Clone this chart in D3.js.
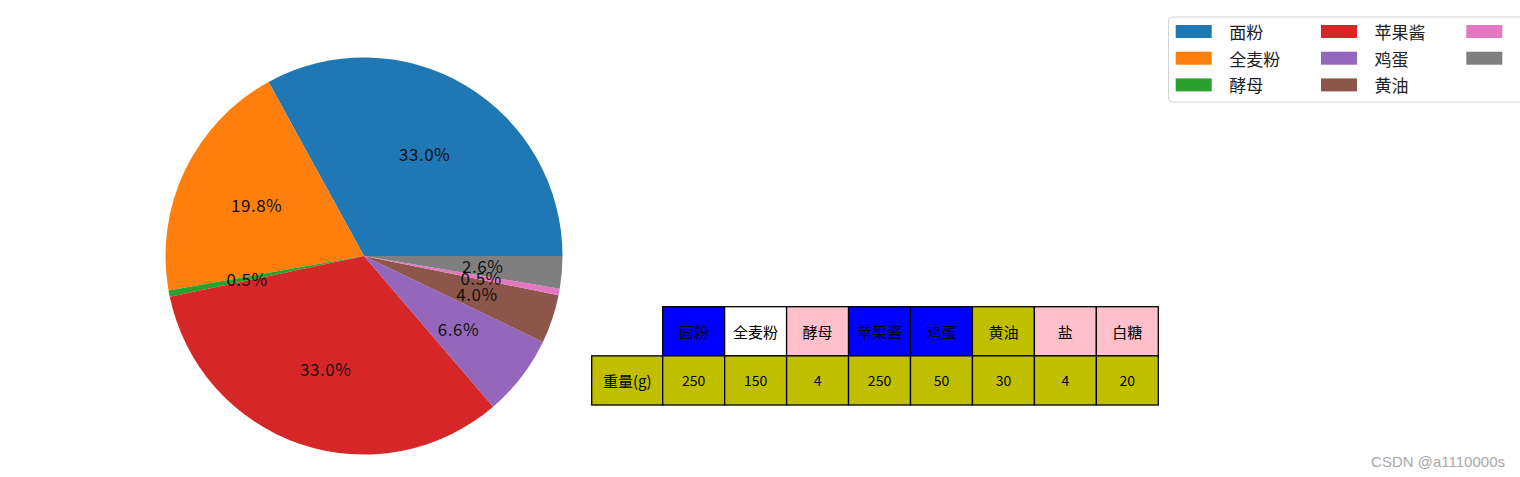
<!DOCTYPE html>
<html>
<head>
<meta charset="utf-8">
<script src="https://cdn.jsdelivr.net/npm/d3@7"></script>
<style>
  body { margin: 0; background: #fff; }
  svg { display: block; }
</style>
</head>
<body>
<svg class="canvas"></svg>
<script>
// Data
const ingredients = ['面粉', '全麦粉', '酵母', '苹果酱', '鸡蛋', '黄油', '盐', '白糖'];
const weights = [250, 150, 4, 250, 50, 30, 4, 20];
const rowLabel = '重量(g)';
const watermark = 'CSDN @a1110000s';

// Setting constants
const wWidth = 1520;
const wHeight = 477;
const cjkFont = '"Noto Sans CJK SC", "Noto Sans", sans-serif';

// header cell fills used in the table
const headerFill = ['#0000ff', '#ffffff', '#ffc0cb', '#0000ff', '#0000ff', '#bfbf00', '#ffc0cb', '#ffc0cb'];
const bodyFill = '#bfbf00';

const svg = d3.select('.canvas')
    .attr('width', wWidth)
    .attr('height', wHeight);

const colour = d3.scaleOrdinal()
    .domain(ingredients)
    .range(d3.schemeCategory10);

const rows = ingredients.map((name, i) => ({name, weight: weights[i]}));
const total = d3.sum(weights);

// Pie, starting at 3 o'clock and going counter-clockwise
const pieCx = 364, pieCy = 256, radius = 198.5;
const pie = d3.pie()
    .sort(null)
    .value(d => d.weight)
    .startAngle(Math.PI / 2)
    .endAngle(Math.PI / 2 - 2 * Math.PI);
const arc = d3.arc().innerRadius(0).outerRadius(radius);
const labelArc = d3.arc().innerRadius(radius * 0.6).outerRadius(radius * 0.6);

const pieG = svg.append('g')
    .attr('transform', `translate(${pieCx}, ${pieCy})`);

const slices = pie(rows);

pieG.selectAll('path')
    .data(slices)
    .enter()
    .append('path')
    .attr('d', arc)
    .attr('fill', d => colour(d.data.name));

pieG.selectAll('text')
    .data(slices)
    .enter()
    .append('text')
    .attr('transform', d => `translate(${labelArc.centroid(d)})`)
    .attr('text-anchor', 'middle')
    .attr('dominant-baseline', 'central')
    .style('font-family', cjkFont)
    .style('font-size', '17px')
    .style('letter-spacing', '0.5px')
    .attr('fill', '#111')
    .text(d => (d.data.weight / total * 100).toFixed(1) + '%');

// Table
const xCol = d3.scaleBand()
    .domain(ingredients)
    .range([662.7, 1158.3]);
const yRow = d3.scaleBand()
    .domain(['header', 'body'])
    .range([306.7, 405]);
const labelLeft = 591.7;

const table = svg.append('g');

// column headers
const head = table.selectAll('g.head')
    .data(rows)
    .enter()
    .append('g')
    .attr('class', 'head');
head.append('rect')
    .attr('x', d => xCol(d.name))
    .attr('y', yRow('header'))
    .attr('width', xCol.bandwidth())
    .attr('height', yRow.bandwidth())
    .attr('fill', (d, i) => headerFill[i])
    .attr('stroke', '#000')
    .attr('stroke-width', 1.3);
head.append('text')
    .attr('x', d => xCol(d.name) + xCol.bandwidth() / 2)
    .attr('y', yRow('header') + yRow.bandwidth() / 2)
    .attr('text-anchor', 'middle')
    .attr('dominant-baseline', 'central')
    .style('font-family', cjkFont)
    .style('font-size', '15px')
    .text(d => d.name);

// row label
table.append('rect')
    .attr('x', labelLeft)
    .attr('y', yRow('body'))
    .attr('width', xCol.range()[0] - labelLeft)
    .attr('height', yRow.bandwidth())
    .attr('fill', bodyFill)
    .attr('stroke', '#000')
    .attr('stroke-width', 1.3);
table.append('text')
    .attr('x', (labelLeft + xCol.range()[0]) / 2)
    .attr('y', yRow('body') + yRow.bandwidth() / 2)
    .attr('text-anchor', 'middle')
    .attr('dominant-baseline', 'central')
    .style('font-family', cjkFont)
    .style('font-size', '15px')
    .text(rowLabel);

// body cells
const body = table.selectAll('g.body')
    .data(rows)
    .enter()
    .append('g')
    .attr('class', 'body');
body.append('rect')
    .attr('x', d => xCol(d.name))
    .attr('y', yRow('body'))
    .attr('width', xCol.bandwidth())
    .attr('height', yRow.bandwidth())
    .attr('fill', bodyFill)
    .attr('stroke', '#000')
    .attr('stroke-width', 1.3);
body.append('text')
    .attr('x', d => xCol(d.name) + xCol.bandwidth() / 2)
    .attr('y', yRow('body') + yRow.bandwidth() / 2)
    .attr('text-anchor', 'middle')
    .attr('dominant-baseline', 'central')
    .style('font-family', cjkFont)
    .style('font-size', '14px')
    .text(d => d.weight);

// Legend (3 columns, filled column by column, runs past the right edge)
const legend = svg.append('g');
legend.append('rect')
    .attr('x', 1168.5)
    .attr('y', 17)
    .attr('width', 420)
    .attr('height', 85)
    .attr('rx', 4)
    .attr('fill', '#fff')
    .attr('stroke', '#d4d4d4');

const nRows = 3;
const legX = d3.scaleLinear().domain([0, 1]).range([1175.7, 1321]);
const legY = d3.scaleLinear().domain([0, 1]).range([31.5, 58.2]);

const items = legend.selectAll('g.item')
    .data(rows)
    .enter()
    .append('g')
    .attr('class', 'item')
    .attr('transform', (d, i) => `translate(${legX(Math.floor(i / nRows))}, ${legY(i % nRows)})`);
items.append('rect')
    .attr('x', 0)
    .attr('y', -6.5)
    .attr('width', 36)
    .attr('height', 13)
    .attr('fill', d => colour(d.name));
items.append('text')
    .attr('x', 53.5)
    .attr('y', 0)
    .attr('dominant-baseline', 'central')
    .style('font-family', cjkFont)
    .style('font-size', '17px')
    .attr('fill', '#222')
    .text(d => d.name);

// Watermark
svg.append('text')
    .attr('x', 1505)
    .attr('y', 467)
    .attr('text-anchor', 'end')
    .style('font-family', '"Liberation Sans", Arial, sans-serif')
    .style('font-size', '15px')
    .attr('fill', '#a8a8a8')
    .text(watermark);
</script>
</body>
</html>
